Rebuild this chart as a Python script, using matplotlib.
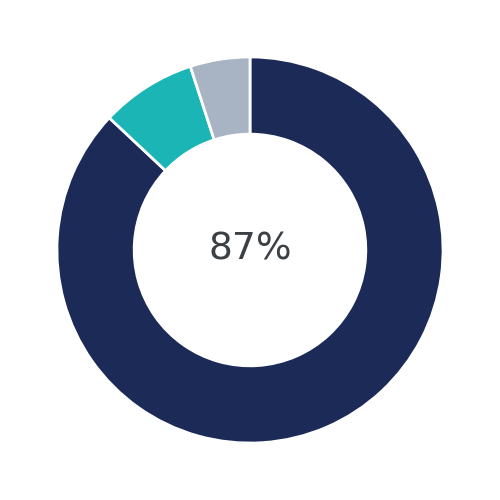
import matplotlib.pyplot as plt

labels = ["A", "B", "C"]
values = [87, 8, 5]
colors = ["#1b2a57", "#1bb5b6", "#a8b4c3"]
center_text = "87%"

fig = plt.figure(figsize=(5, 5), dpi=100)
ax = fig.add_axes([0, 0, 1, 1])
ax.pie(values, colors=colors, startangle=90, counterclock=False,
       wedgeprops=dict(width=0.4, edgecolor="white", linewidth=2))
ax.text(0, 0, center_text, ha="center", va="center", fontsize=27, color="#3b4045")
ax.set_xlim(-1.295, 1.295)
ax.set_ylim(-1.295, 1.295)
ax.set_aspect("equal")
ax.axis("off")
fig.savefig("out.png", dpi=100, facecolor="white")
